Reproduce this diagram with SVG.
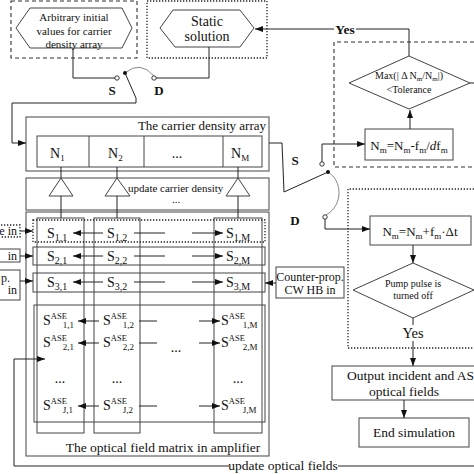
<svg xmlns="http://www.w3.org/2000/svg" width="474" height="474" viewBox="0 0 474 474">
<defs>
<style>
text{font-family:"Liberation Serif","Times New Roman",serif;fill:#111}
.box{fill:none;stroke:#444;stroke-width:1}
.dash{fill:none;stroke:#333;stroke-width:1.1;stroke-dasharray:4,3}
.dot{fill:none;stroke:#222;stroke-width:1.3;stroke-dasharray:1.3,1.7}
.ln{fill:none;stroke:#222;stroke-width:1}
.ar{fill:none;stroke:#222;stroke-width:1;marker-end:url(#ah)}
.da{fill:none;stroke:#222;stroke-width:1;marker-end:url(#ah);marker-start:url(#ah)}
.thin{fill:none;stroke:#555;stroke-width:0.7}
.c{text-anchor:middle}
</style>
<marker id="ah" viewBox="0 0 8 6" refX="8" refY="3" markerWidth="8" markerHeight="6" markerUnits="userSpaceOnUse" orient="auto-start-reverse">
<path d="M0,0 L8,3 L0,6 z" fill="#111"/>
</marker>
</defs>
<rect width="474" height="474" fill="#fff"/>

<g id="init-region">
<rect class="dash" x="11" y="1" width="126" height="57"/>
</g>
<g id="static-region">
<rect class="dot" x="147" y="1" width="120" height="57"/>
</g>
<g id="s-loop-region">
<path class="dash" d="M474,42 H334 V167 H474"/>
</g>
<g id="d-loop-region">
<path class="dot" d="M474,189 H348 V348 H474"/>
</g>

<g id="init">
<polygon class="box" points="16,28 30,8 122,8 132,28 122,48 30,48"/>
<text class="c" x="74" y="21" font-size="11">Arbitrary  initial</text>
<text class="c" x="74" y="35" font-size="11">values for carrier</text>
<text class="c" x="74" y="48" font-size="11">density array</text>
</g>

<g id="static">
<polygon class="box" points="160,28 173,10 240,10 254,28 240,47 175,47"/>
<text class="c" x="207" y="26" font-size="14">Static</text>
<text class="c" x="207" y="41" font-size="14">solution</text>
</g>

<g id="max-diamond">
<polygon class="box" points="409,56 470,83 409,109 349,83"/>
<text class="c" x="409" y="79" font-size="10">Max(| Δ N<tspan dy="1.5" font-size="7">m</tspan><tspan dy="-1.5">/N</tspan><tspan dy="1.5" font-size="7">m</tspan><tspan dy="-1.5">|)</tspan></text>
<text class="c" x="409" y="93" font-size="10">&lt;Tolerance</text>
</g>

<g id="nm-minus">
<rect class="box" x="365" y="129" width="88" height="31"/>
<text class="c" x="409" y="150" font-size="13">N<tspan dy="3" font-size="9">m</tspan><tspan dy="-3">=N</tspan><tspan dy="3" font-size="9">m</tspan><tspan dy="-3">-f</tspan><tspan dy="3" font-size="9">m</tspan><tspan dy="-3">/</tspan><tspan font-style="italic">d</tspan>f<tspan dy="3" font-size="9">m</tspan></text>
</g>

<g id="nm-plus">
<rect class="box" x="370" y="216" width="101" height="29"/>
<text class="c" x="420" y="236" font-size="13">N<tspan dy="3" font-size="9">m</tspan><tspan dy="-3">=N</tspan><tspan dy="3" font-size="9">m</tspan><tspan dy="-3">+f</tspan><tspan dy="3" font-size="9">m</tspan><tspan dy="-3">·Δt</tspan></text>
</g>

<g id="pump-diamond">
<polygon class="box" points="413,263 474,290 413,318 353,290"/>
<text class="c" x="413" y="287" font-size="10">Pump pulse is</text>
<text class="c" x="413" y="299" font-size="10">turned off</text>
</g>

<g id="output">
<rect class="box" x="332" y="366" width="150" height="34"/>
<text x="347" y="380" font-size="13.5">Output incident and AS</text>
<text class="c" x="404" y="396" font-size="13.5">optical fields</text>
</g>

<g id="end">
<rect class="box" x="359" y="418" width="110" height="29"/>
<text class="c" x="414" y="437" font-size="13.5">End simulation</text>
</g>

<g id="carrier-array">
<rect class="box" x="26" y="117" width="243" height="54"/>
<text x="266" y="130" font-size="13" text-anchor="end">The carrier density array</text>
<rect class="box" x="37" y="136" width="225" height="31"/>
<path class="box" d="M89,136 V167 M144,136 V167 M223,136 V167"/>
<text x="50" y="158" font-size="14">N<tspan dy="3" font-size="9">1</tspan></text>
<text x="108" y="158" font-size="14">N<tspan dy="3" font-size="9">2</tspan></text>
<text class="c" x="177" y="158" font-size="14">...</text>
<text x="231" y="158" font-size="14">N<tspan dy="3" font-size="9">M</tspan></text>
</g>

<g id="update-carrier">
<rect class="box" x="26" y="178" width="243" height="32"/>
<polygon class="box" points="61,178 73,196 49,196"/>
<polygon class="box" points="117,178 130,196 105,196"/>
<polygon class="box" points="238,178 250,196 226,196"/>
<text x="128" y="192" font-size="11">update carrier density</text>
<text class="c" x="176" y="203" font-size="11">...</text>
</g>

<g id="optical-matrix">
<rect class="box" x="26" y="212" width="243" height="244"/>
<text class="c" x="163" y="452" font-size="13.5">The optical field matrix in amplifier</text>
<rect class="box" x="37" y="218" width="47" height="215"/>
<rect class="box" x="94" y="218" width="46" height="215"/>
<rect class="box" x="214" y="218" width="48" height="215"/>
<rect class="dot" x="33" y="220" width="232" height="22"/>
<rect class="box" x="33" y="247" width="232" height="18"/>
<rect class="box" x="33" y="273" width="232" height="19"/>
<rect class="box" x="34" y="305" width="231" height="117"/>

<text x="47" y="238" font-size="14">S<tspan dy="3" font-size="10">1,1</tspan></text>
<text x="107" y="238" font-size="14">S<tspan dy="3" font-size="10">1,2</tspan></text>
<text x="226" y="238" font-size="14">S<tspan dy="3" font-size="10">1,M</tspan></text>
<text x="47" y="261" font-size="14">S<tspan dy="3" font-size="10">2,1</tspan></text>
<text x="107" y="261" font-size="14">S<tspan dy="3" font-size="10">2,2</tspan></text>
<text x="226" y="261" font-size="14">S<tspan dy="3" font-size="10">2,M</tspan></text>
<text x="47" y="287" font-size="14">S<tspan dy="3" font-size="10">3,1</tspan></text>
<text x="107" y="287" font-size="14">S<tspan dy="3" font-size="10">3,2</tspan></text>
<text x="226" y="287" font-size="14">S<tspan dy="3" font-size="10">3,M</tspan></text>

<text x="43" y="325" font-size="14">S<tspan dy="-6" font-size="8.5">ASE</tspan><tspan dy="9" dx="-4" font-size="9">1,1</tspan></text>
<text x="103" y="325" font-size="14">S<tspan dy="-6" font-size="8.5">ASE</tspan><tspan dy="9" dx="-4" font-size="9">1,2</tspan></text>
<text x="221" y="325" font-size="14">S<tspan dy="-6" font-size="8.5">ASE</tspan><tspan dy="9" dx="-2" font-size="9">1,M</tspan></text>
<text x="43" y="347" font-size="14">S<tspan dy="-6" font-size="8.5">ASE</tspan><tspan dy="9" dx="-4" font-size="9">2,1</tspan></text>
<text x="103" y="347" font-size="14">S<tspan dy="-6" font-size="8.5">ASE</tspan><tspan dy="9" dx="-4" font-size="9">2,2</tspan></text>
<text x="221" y="347" font-size="14">S<tspan dy="-6" font-size="8.5">ASE</tspan><tspan dy="9" dx="-2" font-size="9">2,M</tspan></text>
<text class="c" x="176" y="352" font-size="14">...</text>
<text class="c" x="60" y="383" font-size="14">...</text>
<text class="c" x="117" y="383" font-size="14">...</text>
<text class="c" x="238" y="383" font-size="14">...</text>
<text x="43" y="410" font-size="14">S<tspan dy="-6" font-size="8.5">ASE</tspan><tspan dy="9" dx="-4" font-size="9">J,1</tspan></text>
<text x="103" y="410" font-size="14">S<tspan dy="-6" font-size="8.5">ASE</tspan><tspan dy="9" dx="-4" font-size="9">J,2</tspan></text>
<text x="221" y="410" font-size="14">S<tspan dy="-6" font-size="8.5">ASE</tspan><tspan dy="9" dx="-2" font-size="9">J,M</tspan></text>
</g>

<g id="input-1">
<rect class="dot" x="-2" y="225" width="22" height="12"/>
<text x="17" y="235" font-size="12" text-anchor="end">e in</text>
</g>
<g id="input-2">
<rect class="box" x="-2" y="249" width="22" height="13"/>
<text x="17" y="260" font-size="12" text-anchor="end">in</text>
</g>
<g id="input-3">
<rect class="box" x="-2" y="270" width="22" height="30"/>
<text x="10" y="282" font-size="12" text-anchor="end">p.</text>
<text x="17" y="294" font-size="12" text-anchor="end">in</text>
</g>
<g id="counter-prop">
<rect class="box" x="276" y="267" width="68" height="31"/>
<text class="c" x="310" y="281" font-size="12">Counter-prop.</text>
<text class="c" x="310" y="294" font-size="12">CW HB in</text>
</g>

<g id="connectors">
<path class="ln" d="M73,48 V78 H115"/>
<path class="ln" d="M156,78 H209 V47"/>
<path class="thin" d="M125,73 Q140,60 154,76"/>
<path class="ln" d="M125,73 L136,98 V103 H12 V143"/>
<path class="ar" d="M12,143 H26"/>
<circle cx="117" cy="78" r="2.2" fill="#fff" stroke="#222" stroke-width="0.9"/>
<circle cx="154" cy="78" r="2.2" fill="#fff" stroke="#222" stroke-width="0.9"/>
<circle cx="125" cy="73" r="2" fill="#111"/>
<text x="112" y="95" font-size="13" font-weight="bold" class="c">S</text>
<text x="159" y="95" font-size="13" font-weight="bold" class="c">D</text>

<path class="ln" d="M269,143 H282 L284,192 L328,172"/>
<path class="ar" d="M322,162 V144 H365"/>
<path class="thin" d="M328,172 C342,180 344,205 326,215"/>
<path class="ar" d="M325,219 V229 H370"/>
<circle cx="322" cy="164" r="2.2" fill="#fff" stroke="#222" stroke-width="0.9"/>
<circle cx="325" cy="217" r="2.2" fill="#fff" stroke="#222" stroke-width="0.9"/>
<circle cx="328" cy="172" r="2" fill="#111"/>
<text x="295" y="165" font-size="13" font-weight="bold" class="c">S</text>
<text x="295" y="225" font-size="13" font-weight="bold" class="c">D</text>

<path class="ar" d="M410,129 V110"/>
<path class="ar" d="M409,56 V29 H255"/>
<rect x="334" y="21" width="22" height="15" fill="#fff"/>
<text x="345" y="34" font-size="13.5" font-weight="bold" class="c">Yes</text>
<path class="ln" d="M470,83 H474"/>

<path class="ar" d="M413,245 V263"/>
<path class="ar" d="M413,318 V366"/>
<rect x="402" y="325" width="22" height="16" fill="#fff"/>
<text x="413" y="338" font-size="14.5" class="c">Yes</text>
<path class="ar" d="M404,400 V418"/>

<path class="ln" d="M61,167 V178 M61,196 V218"/>
<path class="ln" d="M117,167 V178 M117,196 V218"/>
<path class="ln" d="M238,167 V178 M238,196 V218"/>

<path class="ar" d="M20,231 H33"/>
<path class="ar" d="M20,256 H33"/>
<path class="ar" d="M20,281 H33"/>
<path class="ar" d="M276,283 H265"/>

<path class="da" d="M73,233 H103 M134,233 H165 M192,233 H223"/>
<path class="da" d="M73,256 H103 M134,256 H165 M192,256 H223"/>
<path class="da" d="M73,282 H103 M134,282 H165 M192,282 H223"/>
<path class="da" d="M78,321 H99 M139,321 H157 M199,321 H220"/>
<path class="da" d="M78,343 H99 M139,343 H157 M199,343 H220"/>
<path class="da" d="M78,406 H99 M139,406 H157 M199,406 H220"/>

<path class="ln" d="M474,466 H14 V359"/>
<path class="ar" d="M14,359 H45"/>
<rect x="229" y="458" width="109" height="14" fill="#fff"/>
<text x="283" y="470" font-size="13.5" class="c">update optical fields</text>
</g>
</svg>
